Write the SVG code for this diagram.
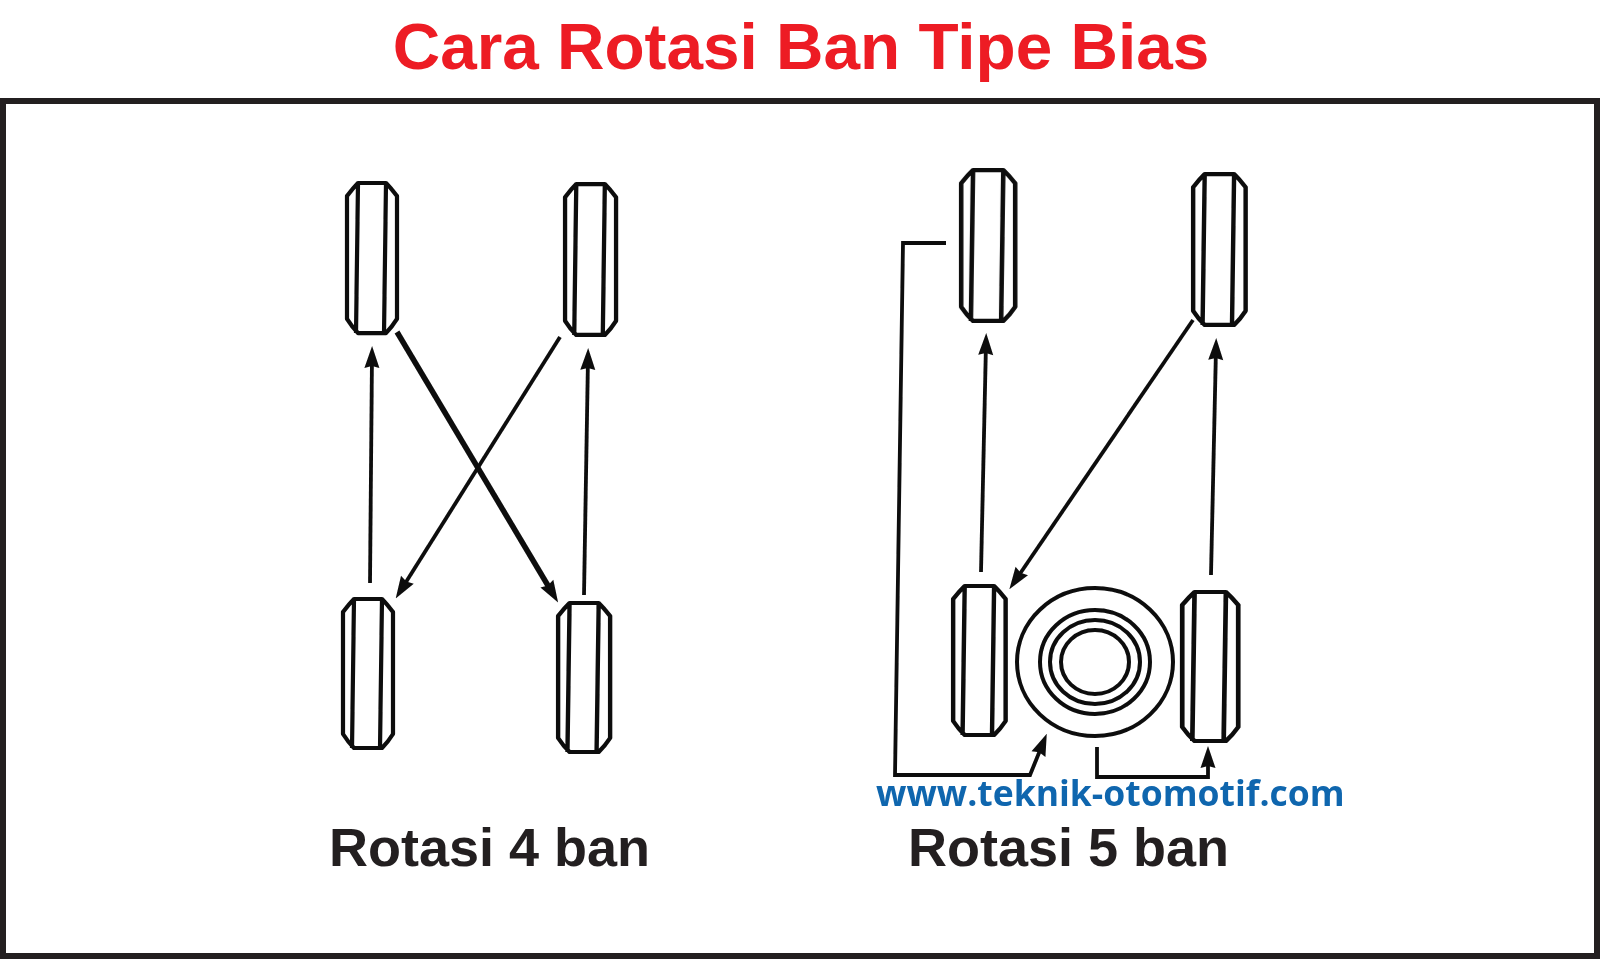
<svg xmlns="http://www.w3.org/2000/svg" width="1600" height="959" viewBox="0 0 1600 959">
<style>
.tire use{fill:none;stroke:#0c0c0c;stroke-width:4.2;stroke-linejoin:round}
.conn{fill:none;stroke:#0c0c0c;stroke-width:3.8;stroke-linejoin:miter}
.ring{fill:none;stroke:#0c0c0c;stroke-width:4}
.lbl{font-family:"Liberation Sans",Arial,sans-serif;font-weight:700;font-size:54px;fill:#231f20}
.soft{filter:url(#soft)}
</style>
<defs>
<filter id="soft" x="-5%" y="-5%" width="110%" height="110%"><feGaussianBlur stdDeviation="0.5"/></filter>
<marker id="ah" markerUnits="userSpaceOnUse" viewBox="0 0 25 17" markerWidth="25" markerHeight="17" refX="15" refY="8.5" orient="auto">
<path d="M25,8.5 L3,1 L5,8.5 L3,16 Z" fill="#0c0c0c"/>
</marker>
<path id="t" d="M13,1 H41 Q46,6 52,14 V136 Q47,144 41,150 H13 Q7,144 2,136 V14 Q8,6 13,1 Z M13,1 L11,150 M41,1 L39,150"/>
</defs>
<rect width="1600" height="959" fill="#fff"/>
<rect x="3" y="101" width="1594" height="855" fill="none" stroke="#231f20" stroke-width="6"/>
<text x="801" y="69" text-anchor="middle" font-family="'Liberation Sans',Arial,sans-serif" font-weight="700" font-size="65.7" fill="#ed1c24">Cara Rotasi Ban Tipe Bias</text>
<g class="soft">
<g id="tire-1" class="tire"><use href="#t" transform="translate(345,182) scale(1,1.007)"/></g>
<g id="tire-2" class="tire"><use href="#t" transform="translate(563,183) scale(1.02,1.013)"/></g>
<g id="tire-3" class="tire"><use href="#t" transform="translate(341,598)"/></g>
<g id="tire-4" class="tire"><use href="#t" transform="translate(556,602) scale(1.04,1)"/></g>
<g id="tire-5" class="tire"><use href="#t" transform="translate(959,169) scale(1.08,1.013)"/></g>
<g id="tire-6" class="tire"><use href="#t" transform="translate(1191,173) scale(1.05,1.013)"/></g>
<g id="tire-7" class="tire"><use href="#t" transform="translate(951,585) scale(1.05,1)"/></g>
<g id="tire-8" class="tire"><use href="#t" transform="translate(1180,591) scale(1.12,1)"/></g>
<g id="spare-tire">
<ellipse class="ring" cx="1095" cy="662" rx="78" ry="74"/>
<ellipse class="ring" cx="1095" cy="662" rx="55" ry="52"/>
<ellipse class="ring" cx="1095" cy="662" rx="45" ry="42"/>
<ellipse class="ring" cx="1095" cy="662" rx="34" ry="32"/>
</g>
<g id="connectors">
<path class="conn" marker-end="url(#ah)" d="M370,583 L372,356"/>
<path class="conn" marker-end="url(#ah)" style="stroke-width:5.5" d="M397,332 L553,594"/>
<path class="conn" marker-end="url(#ah)" d="M560,337 L401,590"/>
<path class="conn" marker-end="url(#ah)" d="M584,595 L588,358"/>
<path class="conn" marker-end="url(#ah)" d="M981,572 L986,343"/>
<path class="conn" marker-end="url(#ah)" d="M1193,320 L1015,581"/>
<path class="conn" marker-end="url(#ah)" d="M1211,575 L1216,348"/>
<path class="conn" marker-end="url(#ah)" d="M946,243 H903 L895,775 H1030 L1043,743"/>
<path class="conn" marker-end="url(#ah)" d="M1097,747 V777 H1208 V756"/>
</g>
</g>
<text class="lbl" x="329" y="866">Rotasi 4 ban</text>
<text class="lbl" x="908" y="866">Rotasi 5 ban</text>
<text x="876" y="806" font-family="'Open Sans','Noto Sans',sans-serif" font-weight="700" font-size="35.5" fill="#0f66ae">www.teknik-otomotif.com</text>
</svg>
